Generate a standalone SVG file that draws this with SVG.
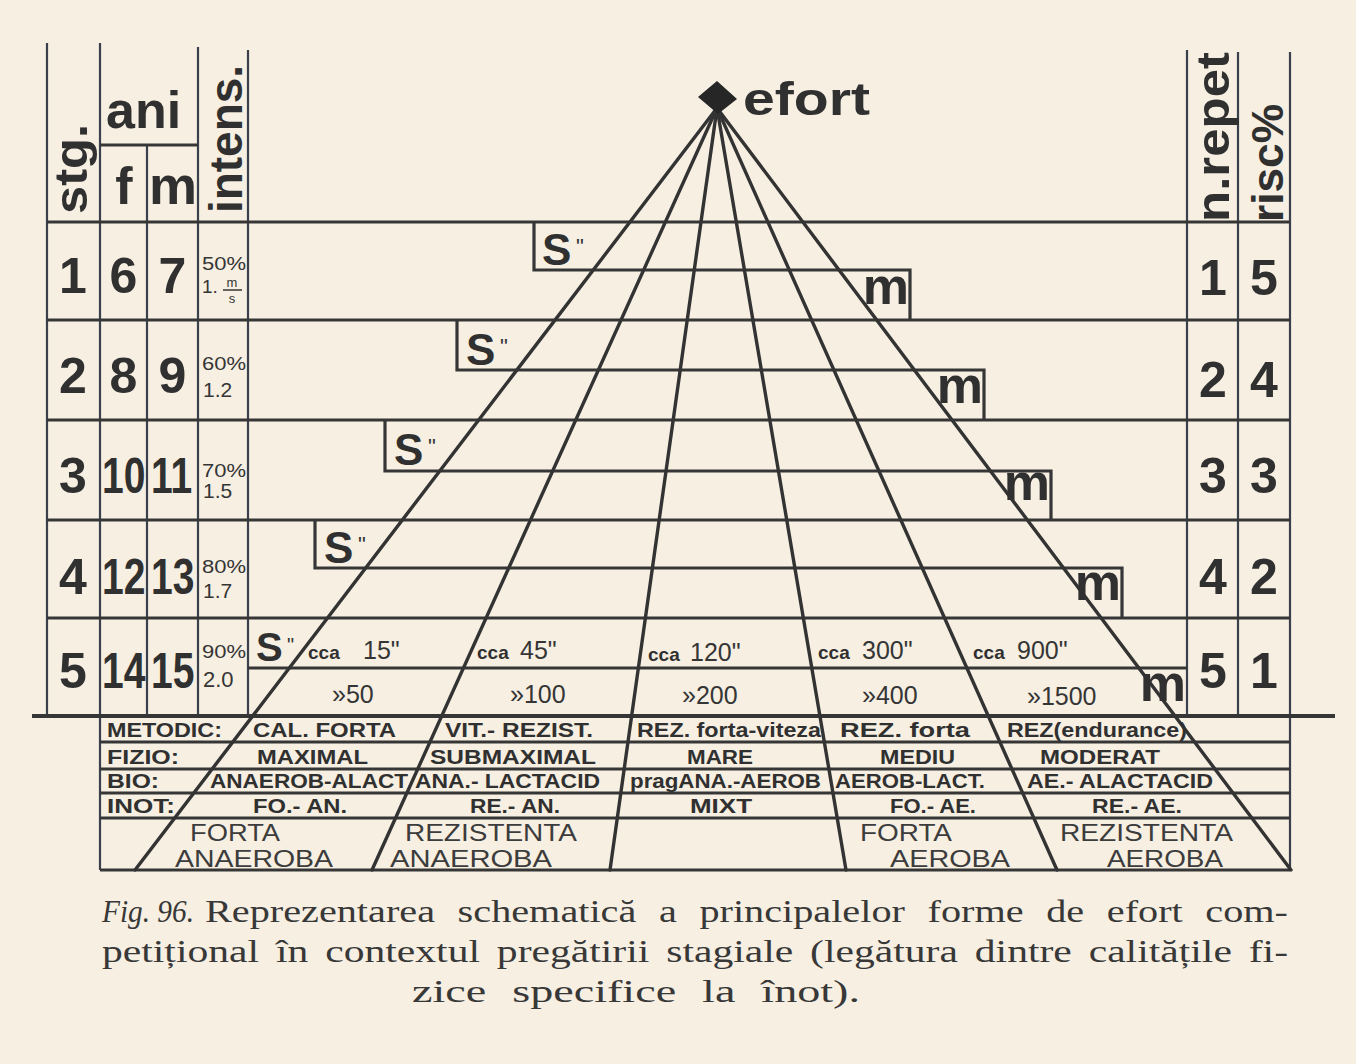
<svg xmlns="http://www.w3.org/2000/svg" width="1356" height="1064" viewBox="0 0 1356 1064">
<style>
.h{stroke:#363636;stroke-width:3.2;fill:none}
.v{stroke:#3a414c;stroke-width:2.2;fill:none}
.f{stroke:#333;stroke-width:3.4;fill:none;stroke-linecap:round}
.b{font-family:"Liberation Sans",Arial,sans-serif;font-weight:bold;fill:#303030}
.r{font-family:"Liberation Sans",Arial,sans-serif;fill:#353535}
.big{font-size:50px}
.hd{font-size:46px}
.sm{font-size:19px}
.tb{font-size:19.5px}
.cc{font-size:19px}
.nn{font-size:25px}
.th{font-size:23px;fill:#3c3c3c}
.S{font-size:44px}
.m{font-size:52px}
.cap{font-family:"Liberation Serif","Times New Roman",serif;font-size:32px;fill:#383838}
</style>
<rect width="1356" height="1064" fill="#f6efe2"/>

<g id="grid">
  <line class="v" x1="47" y1="43" x2="47" y2="716"/>
  <line class="v" x1="100" y1="43" x2="100" y2="870"/>
  <line class="v" x1="147" y1="145" x2="147" y2="716"/>
  <line class="v" x1="198" y1="47" x2="198" y2="716"/>
  <line class="v" x1="248" y1="50" x2="248" y2="716"/>
  <line class="v" x1="1187" y1="50" x2="1187" y2="716"/>
  <line class="v" x1="1238" y1="52" x2="1238" y2="716"/>
  <line class="v" x1="1290" y1="52" x2="1290" y2="870"/>
  <line class="h" x1="100" y1="145" x2="198" y2="145"/>
  <line class="h" x1="47" y1="222" x2="1290" y2="222"/>
  <line class="h" x1="47" y1="320" x2="1290" y2="320"/>
  <line class="h" x1="47" y1="420" x2="1290" y2="420"/>
  <line class="h" x1="47" y1="520" x2="1290" y2="520"/>
  <line class="h" x1="47" y1="618" x2="1290" y2="618"/>
  <line class="h" x1="32" y1="716" x2="1335" y2="716" style="stroke-width:3.8"/>
  <path class="h" d="M534,222 V270 H910 V320"/>
  <path class="h" d="M457,320 V370 H984 V420"/>
  <path class="h" d="M385,420 V471 H1051 V520"/>
  <path class="h" d="M315,520 V568 H1122 V618"/>
  <line class="h" x1="248" y1="668" x2="1187" y2="668"/>
  <line class="h" x1="100" y1="742" x2="1290" y2="742"/>
  <line class="h" x1="100" y1="769" x2="1290" y2="769"/>
  <line class="h" x1="100" y1="793" x2="1290" y2="793"/>
  <line class="h" x1="100" y1="818" x2="1290" y2="818"/>
  <line class="h" x1="100" y1="870" x2="1290" y2="870"/>
</g>

<g id="connectors">
  <line class="f" x1="717" y1="108" x2="135" y2="870"/>
  <line class="f" x1="717" y1="108" x2="372" y2="870"/>
  <line class="f" x1="717" y1="108" x2="610" y2="870"/>
  <line class="f" x1="717" y1="108" x2="846" y2="870"/>
  <line class="f" x1="717" y1="108" x2="1057" y2="870"/>
  <line class="f" x1="717" y1="108" x2="1291" y2="870"/>
</g>

<g id="apex">
  <polygon points="717,81 737,99 718,114 698,97" fill="#262626"/>
  <text class="b" x="743" y="115" font-size="46" textLength="127" lengthAdjust="spacingAndGlyphs">efort</text>
</g>

<g id="headers">
  <text class="b hd" transform="translate(87,214) rotate(-90)" textLength="90" lengthAdjust="spacingAndGlyphs">stg.</text>
  <text class="b" x="106" y="128" font-size="52">ani</text>
  <text class="b" x="124" y="204" font-size="52" text-anchor="middle">f</text>
  <text class="b" x="173" y="204" font-size="54" text-anchor="middle">m</text>
  <text class="b hd" transform="translate(242,213) rotate(-90)" textLength="148" lengthAdjust="spacingAndGlyphs">intens.</text>
  <text class="b hd" transform="translate(1229,222) rotate(-90)" textLength="170" lengthAdjust="spacingAndGlyphs">n.repet</text>
  <text class="b" font-size="44" transform="translate(1283,222) rotate(-90)" textLength="118" lengthAdjust="spacingAndGlyphs">risc%</text>
</g>

<g id="row1">
  <text class="b big" x="73" y="293" text-anchor="middle">1</text>
  <text class="b big" x="123.5" y="293" text-anchor="middle">6</text>
  <text class="b big" x="172.5" y="293" text-anchor="middle">7</text>
  <text class="r sm" x="202" y="270" textLength="44" lengthAdjust="spacingAndGlyphs">50%</text>
  <text class="r" x="202" y="293" font-size="19">1.</text>
  <text class="r" x="232" y="287" font-size="13" text-anchor="middle">m</text>
  <line x1="223" y1="290" x2="242" y2="290" stroke="#353535" stroke-width="1.5"/>
  <text class="r" x="232" y="303" font-size="13" text-anchor="middle">s</text>
  <text class="b big" x="1213" y="295" text-anchor="middle">1</text>
  <text class="b big" x="1264" y="295" text-anchor="middle">5</text>
  <text class="b S" x="542" y="265">S</text>
  <text class="r" x="576" y="254" font-size="22">"</text>
  <text class="b m" x="909" y="304" text-anchor="end">m</text>
</g>

<g id="row2">
  <text class="b big" x="73" y="393" text-anchor="middle">2</text>
  <text class="b big" x="123.5" y="393" text-anchor="middle">8</text>
  <text class="b big" x="172.5" y="393" text-anchor="middle">9</text>
  <text class="r sm" x="202" y="370" textLength="44" lengthAdjust="spacingAndGlyphs">60%</text>
  <text class="r" x="203" y="397" font-size="21">1.2</text>
  <text class="b big" x="1213" y="397" text-anchor="middle">2</text>
  <text class="b big" x="1264" y="397" text-anchor="middle">4</text>
  <text class="b S" x="466" y="365">S</text>
  <text class="r" x="500" y="354" font-size="22">"</text>
  <text class="b m" x="983" y="403" text-anchor="end">m</text>
</g>

<g id="row3">
  <text class="b big" x="73" y="493" text-anchor="middle">3</text>
  <text class="b big" transform="translate(102,493) scale(0.78,1)">10</text>
  <text class="b big" transform="translate(151,493) scale(0.78,1)">11</text>
  <text class="r sm" x="202" y="477" textLength="44" lengthAdjust="spacingAndGlyphs">70%</text>
  <text class="r" x="203" y="498" font-size="21">1.5</text>
  <text class="b big" x="1213" y="493" text-anchor="middle">3</text>
  <text class="b big" x="1264" y="493" text-anchor="middle">3</text>
  <text class="b S" x="394" y="465">S</text>
  <text class="r" x="428" y="454" font-size="22">"</text>
  <text class="b m" x="1050" y="500" text-anchor="end">m</text>
</g>

<g id="row4">
  <text class="b big" x="73" y="594" text-anchor="middle">4</text>
  <text class="b big" transform="translate(102,594) scale(0.78,1)">12</text>
  <text class="b big" transform="translate(151,594) scale(0.78,1)">13</text>
  <text class="r sm" x="202" y="573" textLength="44" lengthAdjust="spacingAndGlyphs">80%</text>
  <text class="r" x="203" y="598" font-size="21">1.7</text>
  <text class="b big" x="1213" y="594" text-anchor="middle">4</text>
  <text class="b big" x="1264" y="594" text-anchor="middle">2</text>
  <text class="b S" x="324" y="563">S</text>
  <text class="r" x="358" y="552" font-size="22">"</text>
  <text class="b m" x="1121" y="600" text-anchor="end">m</text>
</g>

<g id="row5">
  <text class="b big" x="73" y="688" text-anchor="middle">5</text>
  <text class="b big" transform="translate(102,688) scale(0.78,1)">14</text>
  <text class="b big" transform="translate(151,688) scale(0.78,1)">15</text>
  <text class="r sm" x="202" y="658" textLength="44" lengthAdjust="spacingAndGlyphs">90%</text>
  <text class="r" x="203" y="687" font-size="22">2.0</text>
  <text class="b big" x="1213" y="688" text-anchor="middle">5</text>
  <text class="b big" x="1264" y="688" text-anchor="middle">1</text>
  <text class="b" x="256" y="661" font-size="40">S</text>
  <text class="r" x="287" y="652" font-size="20">"</text>
  <text class="b m" x="1186" y="701" text-anchor="end">m</text>
  <text class="b cc" x="308" y="659">cca</text><text class="r nn" x="363" y="659">15"</text>
  <text class="b cc" x="477" y="659">cca</text><text class="r nn" x="520" y="659">45"</text>
  <text class="b cc" x="648" y="661">cca</text><text class="r nn" x="690" y="661">120"</text>
  <text class="b cc" x="818" y="659">cca</text><text class="r nn" x="862" y="659">300"</text>
  <text class="b cc" x="973" y="659">cca</text><text class="r nn" x="1017" y="659">900"</text>
  <text class="r nn" x="332" y="703">»50</text>
  <text class="r nn" x="510" y="703">»100</text>
  <text class="r nn" x="682" y="704">»200</text>
  <text class="r nn" x="862" y="704">»400</text>
  <text class="r nn" x="1027" y="705">»1500</text>
</g>

<g id="table-metodic">
  <text class="b tb" x="107" y="737" textLength="115" lengthAdjust="spacingAndGlyphs">METODIC:</text>
  <text class="b tb" x="253" y="737" textLength="143" lengthAdjust="spacingAndGlyphs">CAL. FORTA</text>
  <text class="b tb" x="445" y="737" textLength="148" lengthAdjust="spacingAndGlyphs">VIT.- REZIST.</text>
  <text class="b tb" x="637" y="737" textLength="184" lengthAdjust="spacingAndGlyphs">REZ. forta-viteza</text>
  <text class="b tb" x="840" y="737" textLength="130" lengthAdjust="spacingAndGlyphs">REZ. forta</text>
  <text class="b tb" x="1007" y="737" textLength="180" lengthAdjust="spacingAndGlyphs">REZ(endurance)</text>
</g>
<g id="table-fizio">
  <text class="b tb" x="107" y="764" textLength="72" lengthAdjust="spacingAndGlyphs">FIZIO:</text>
  <text class="b tb" x="257" y="764" textLength="111" lengthAdjust="spacingAndGlyphs">MAXIMAL</text>
  <text class="b tb" x="430" y="764" textLength="166" lengthAdjust="spacingAndGlyphs">SUBMAXIMAL</text>
  <text class="b tb" x="687" y="764" textLength="66" lengthAdjust="spacingAndGlyphs">MARE</text>
  <text class="b tb" x="880" y="764" textLength="75" lengthAdjust="spacingAndGlyphs">MEDIU</text>
  <text class="b tb" x="1040" y="764" textLength="120" lengthAdjust="spacingAndGlyphs">MODERAT</text>
</g>
<g id="table-bio">
  <text class="b tb" x="107" y="788" textLength="52" lengthAdjust="spacingAndGlyphs">BIO:</text>
  <text class="b tb" x="210" y="788" textLength="198" lengthAdjust="spacingAndGlyphs">ANAEROB-ALACT</text>
  <text class="b tb" x="415" y="788" textLength="185" lengthAdjust="spacingAndGlyphs">ANA.- LACTACID</text>
  <text class="b tb" x="630" y="788" textLength="191" lengthAdjust="spacingAndGlyphs">pragANA.-AEROB</text>
  <text class="b tb" x="835" y="788" textLength="150" lengthAdjust="spacingAndGlyphs">AEROB-LACT.</text>
  <text class="b tb" x="1027" y="788" textLength="186" lengthAdjust="spacingAndGlyphs">AE.- ALACTACID</text>
</g>
<g id="table-inot">
  <text class="b tb" x="107" y="813" textLength="68" lengthAdjust="spacingAndGlyphs">INOT:</text>
  <text class="b tb" x="253" y="813" textLength="94" lengthAdjust="spacingAndGlyphs">FO.- AN.</text>
  <text class="b tb" x="470" y="813" textLength="90" lengthAdjust="spacingAndGlyphs">RE.- AN.</text>
  <text class="b tb" x="690" y="813" textLength="62" lengthAdjust="spacingAndGlyphs">MIXT</text>
  <text class="b tb" x="890" y="813" textLength="86" lengthAdjust="spacingAndGlyphs">FO.- AE.</text>
  <text class="b tb" x="1092" y="813" textLength="90" lengthAdjust="spacingAndGlyphs">RE.- AE.</text>
</g>
<g id="table-forme">
  <text class="r th" x="190" y="841" textLength="90" lengthAdjust="spacingAndGlyphs">FORTA</text>
  <text class="r th" x="175" y="867" textLength="158" lengthAdjust="spacingAndGlyphs">ANAEROBA</text>
  <text class="r th" x="405" y="841" textLength="172" lengthAdjust="spacingAndGlyphs">REZISTENTA</text>
  <text class="r th" x="390" y="867" textLength="162" lengthAdjust="spacingAndGlyphs">ANAEROBA</text>
  <text class="r th" x="860" y="841" textLength="92" lengthAdjust="spacingAndGlyphs">FORTA</text>
  <text class="r th" x="890" y="867" textLength="120" lengthAdjust="spacingAndGlyphs">AEROBA</text>
  <text class="r th" x="1060" y="841" textLength="173" lengthAdjust="spacingAndGlyphs">REZISTENTA</text>
  <text class="r th" x="1107" y="867" textLength="116" lengthAdjust="spacingAndGlyphs">AEROBA</text>
</g>

<g id="caption">
  <text class="cap" x="102" y="922" font-style="italic" textLength="92" lengthAdjust="spacingAndGlyphs">Fig. 96.</text>
  <text class="cap" x="205" y="922" word-spacing="10" textLength="1083" lengthAdjust="spacingAndGlyphs">Reprezentarea schematică a principalelor forme de efort com-</text>
  <text class="cap" x="102" y="962" word-spacing="5" textLength="1186" lengthAdjust="spacingAndGlyphs">petițional în contextul pregătirii stagiale (legătura dintre calitățile fi-</text>
  <text class="cap" x="412" y="1002" word-spacing="10" textLength="448" lengthAdjust="spacingAndGlyphs">zice specifice la înot).</text>
</g>
</svg>
